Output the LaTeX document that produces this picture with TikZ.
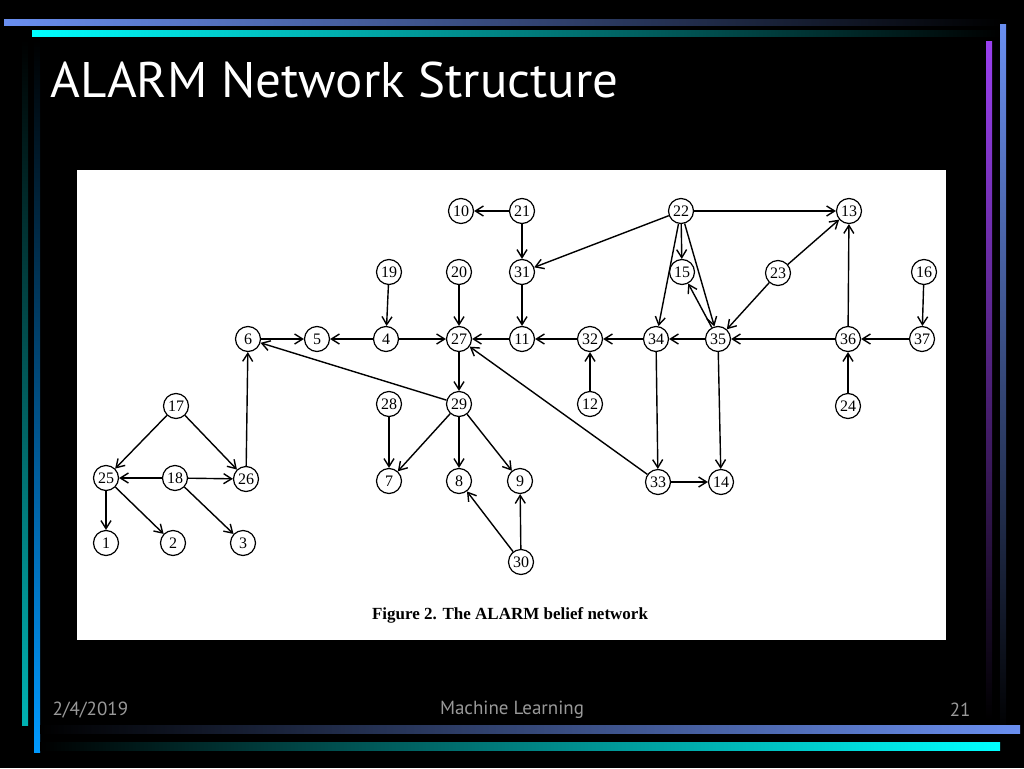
\documentclass[tikz,border=0pt]{standalone}
\usepackage{fontspec}
\setmainfont{Liberation Serif}
\newfontfamily\slidefont{PT Sans}
\usetikzlibrary{arrows.meta}
\definecolor{barblue}{HTML}{6A8FF0}
\definecolor{barviolet}{HTML}{9A40F0}
\begin{document}
\begin{tikzpicture}[x=1pt,y=-1pt,
  nd/.style={circle,draw,line width=1.2pt,minimum size=25pt,inner sep=0pt,font=\fontsize{16}{16}\selectfont},
  ed/.style={line width=1.4pt,-{Straight Barb[length=8pt,width=10pt]}}]
\fill[black] (0,0) rectangle (1024,768);
\useasboundingbox (0,0) rectangle (1024,768);
% decorations
\shade[left color=barblue, right color=black] (4,20) rectangle (1004,26);
\shade[left color=cyan, right color=black] (32,31) rectangle (1000,37);
\shade[top color=black, bottom color=cyan!70!black] (22,40) rectangle (28,725);
\shade[top color=black, bottom color=cyan!60!blue] (34,40) rectangle (40,752);
\shade[top color=barblue, bottom color=black] (1000,25) rectangle (1006,735);
\shade[top color=barviolet, bottom color=black] (986,42) rectangle (992,720);
\shade[left color=black, right color=barblue] (40,725) rectangle (1020,733);
\shade[left color=black, right color=cyan] (40,742) rectangle (1000,750);
\node[anchor=west,text=white,font=\slidefont\fontsize{50}{50}\selectfont,xscale=1.02] (title) at (47,80) {ALARM Network Structure};
\node[anchor=west,text=gray!80,font=\slidefont\fontsize{19}{19}\selectfont] (date) at (49,710) {2/4/2019};
\node[text=gray!80,font=\slidefont\fontsize{19}{19}\selectfont] (ml) at (512,710) {Machine Learning};
\node[anchor=east,text=gray!80,font=\slidefont\fontsize{19}{19}\selectfont] (pg) at (974,710) {21};
\fill[white] (77,170) rectangle (946,640);
\node[font=\bfseries\fontsize{17}{17}\selectfont] (cap) at (510,615) {Figure 2. The ALARM belief network};
% nodes
\foreach \n/\x/\y in {10/461/211,21/522/211,22/681/211,13/849/211,
 19/389/272,20/459/272,31/522/272,15/682/272,23/778/273,16/924/272,
 6/248/339,5/317/339,4/386/339,27/459/339,11/522/339,32/590/339,34/656/339,35/718/339,36/848/339,37/922/339,
 17/176/406,28/389/404,29/459/404,12/590/404,24/848/406,
 25/106/478,18/175/478,26/246/479,7/389/481,8/459/481,9/520/481,33/658/482,14/721/482,
 1/106/543,2/173/543,3/243/543,30/521/562}
 \node[nd] (n\n) at (\x,\y) {\n};
% edges
\foreach \a/\b in {21/10,21/31,22/31,22/13,22/15,22/34,22/35,23/13,23/35,35/15,16/37,37/36,36/35,36/13,24/36,
 35/34,34/32,32/11,12/32,11/27,31/11,20/27,19/4,4/27,4/5,6/5,29/6,27/29,33/27,34/33,33/14,35/14,
 29/7,29/8,29/9,28/7,30/8,30/9,17/25,17/26,18/25,18/26,18/3,25/1,25/2,26/6}
 \draw[ed] (n\a) -- (n\b);
\end{tikzpicture}
\end{document}
